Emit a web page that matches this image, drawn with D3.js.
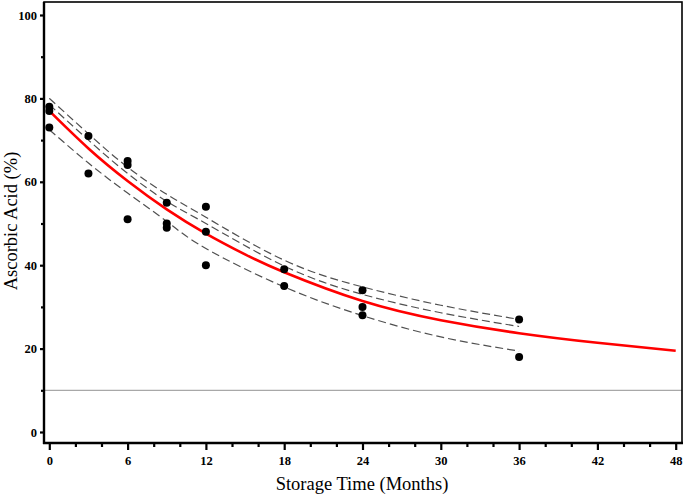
<!DOCTYPE html>
<html><head><meta charset="utf-8">
<script src="https://cdn.jsdelivr.net/npm/d3@7"></script>
<style>body{margin:0;background:#fff}svg{display:block}</style>
</head><body>
<svg id="c" width="685" height="496"></svg>
<script>
// Observed data points
const obsTime  = [0,0,0, 3,3, 6,6,6, 9,9,9, 12,12,12, 18,18, 24,24,24, 36,36];
const obsValue = [78,77,73, 71,62, 65,64,51, 55,50,49, 54,48,40, 39,35, 34,30,28, 27,18];
// Fitted curve (red)
const fitTime  = [0,3,6,9,12,15,18,24,30,36,42,48];
const fitValue = [77,68,60.2,53.4,47.6,42.6,38.3,31.4,26.8,23.7,21.4,19.5];
// Dashed bands
const bandTime   = [0,3,6,9,12,18,24,30,36];
const bandTop    = [80,71.5,63.5,57,51.5,41.2,34.8,30.4,27];
const bandMid    = [78.5,70,62,55.3,50,39.8,33,28.6,25.3];
const bandLow    = [72.5,64.5,57.3,50.5,44,34.8,27.9,22.8,19.4];
const refLine = 10;
const xTicks = [0,6,12,18,24,30,36,42,48];
const yTicks = [0,20,40,60,80,100];

const svg = d3.select('#c');
const frame = {l:44, t:2, r:682, b:443};
const x = d3.scaleLinear().domain([0,48]).range([49.3,675.7]);
const y = d3.scaleLinear().domain([0,100]).range([432,15]);

// reference line
svg.append('line').attr('x1',frame.l).attr('x2',frame.r)
  .attr('y1',y(refLine)).attr('y2',y(refLine))
  .attr('stroke','#a8a8a8').attr('stroke-width',1.2);

const line = d3.line().x(d=>x(d[0])).y(d=>y(d[1])).curve(d3.curveNatural);
function band(vals){ return bandTime.map((t,i)=>[t,vals[i]]); }
[bandTop,bandMid,bandLow].forEach(v=>{
  svg.append('path').attr('d',line(band(v))).attr('fill','none')
    .attr('stroke','#505050').attr('stroke-width',1.2).attr('stroke-dasharray','8,4');
});
svg.append('path').attr('d',line(fitTime.map((t,i)=>[t,fitValue[i]])))
  .attr('fill','none').attr('stroke','#ff0000').attr('stroke-width',2.6);

svg.selectAll('circle.p').data(obsTime.map((t,i)=>[t,obsValue[i]])).enter()
  .append('circle').attr('cx',d=>x(d[0])).attr('cy',d=>y(d[1])).attr('r',4).attr('fill','#000');

// frame
svg.append('rect').attr('x',frame.l).attr('y',frame.t).attr('width',frame.r-frame.l).attr('height',frame.b-frame.t)
  .attr('fill','none').attr('stroke','#000').attr('stroke-width',1.6);
svg.append('line').attr('x1',frame.l).attr('x2',frame.l).attr('y1',frame.t).attr('y2',frame.b+1).attr('stroke','#000').attr('stroke-width',2.4);
svg.append('line').attr('x1',frame.l-1).attr('x2',frame.r+1).attr('y1',frame.b).attr('y2',frame.b).attr('stroke','#000').attr('stroke-width',2.4);

// x axis
const xAx = svg.append('g').attr('transform',`translate(0,${frame.b})`)
  .call(d3.axisBottom(x).tickValues(xTicks).tickSize(7).tickPadding(6).tickFormat(d3.format('d')));
const xMin = svg.append('g').attr('transform',`translate(0,${frame.b})`)
  .call(d3.axisBottom(x).tickValues(d3.range(0,49,2).filter(v=>v%6)).tickSize(4).tickFormat(''));
// y axis
const yAx = svg.append('g').attr('transform',`translate(${frame.l},0)`)
  .call(d3.axisLeft(y).tickValues(yTicks).tickSize(4).tickPadding(3).tickFormat(d3.format('d')));
const yMin = svg.append('g').attr('transform',`translate(${frame.l},0)`)
  .call(d3.axisLeft(y).tickValues([10,30,50,70,90]).tickSize(3).tickFormat(''));
[xAx,xMin,yAx,yMin].forEach(g=>{
  g.select('.domain').remove();
  g.selectAll('.tick line').attr('stroke','#000').attr('stroke-width',2.2);
  g.selectAll('text').attr('font-family','"Liberation Serif", serif').attr('font-weight','bold')
    .attr('font-size',12.5).attr('fill','#000');
});

svg.append('text').attr('x',362).attr('y',490).attr('text-anchor','middle')
  .attr('font-family','"Liberation Serif", serif').attr('font-size',18.5).text('Storage Time (Months)');
svg.append('text').attr('transform','translate(17,221) rotate(-90)').attr('text-anchor','middle')
  .attr('font-family','"Liberation Serif", serif').attr('font-size',18.5).text('Ascorbic Acid (%)');
</script>
</body></html>
